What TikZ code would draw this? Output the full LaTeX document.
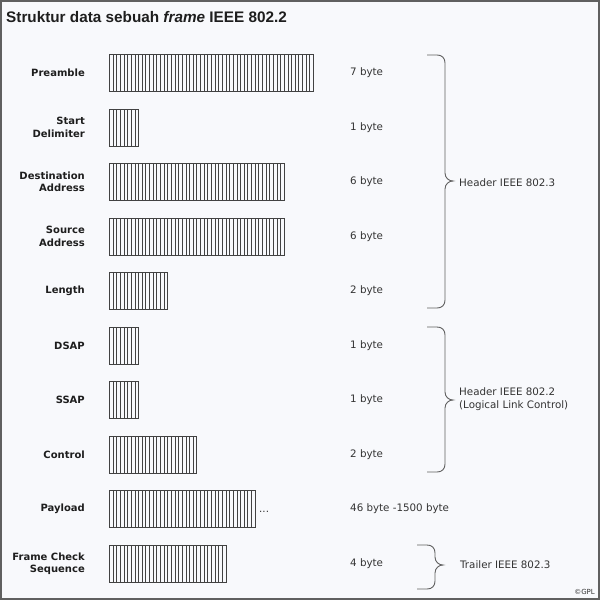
\documentclass[tikz,border=0pt]{standalone}
\usepackage{fontspec}
\setmainfont{DejaVu Sans}
\newfontfamily\titlefont{Liberation Sans}
\usetikzlibrary{positioning}

\definecolor{paper}{RGB}{248,249,252}
\definecolor{frameline}{RGB}{96,96,96}
\definecolor{ink}{RGB}{30,30,30}
\definecolor{soft}{RGB}{51,51,51}
\definecolor{stripe}{RGB}{66,66,66}

\tikzset{
  field/.style={draw=stripe, line width=0.8pt, minimum height=37pt, inner sep=0pt, anchor=west,
    path picture={
      \foreach \k in {1,...,60}
        \draw[stripe, line width=0.8pt]
          ([xshift=\k*3.643pt]path picture bounding box.south west) --
          ([xshift=\k*3.643pt]path picture bounding box.north west);
    }},
  fieldlabel/.style={text=ink, align=right, inner sep=0pt, font=\bfseries\fontsize{10}{12.5}\selectfont},
  bytecount/.style={text=soft, anchor=west, inner sep=0pt, font=\fontsize{10.3}{12.5}\selectfont},
  groupnote/.style={text=soft, anchor=west, align=left, inner sep=0pt, font=\fontsize{10.3}{13.5}\selectfont},
  bracket/.style={draw=frameline, line width=0.9pt}
}

% curly brace: left end x, top y, bottom y, tip y
\newcommand{\curly}[4]{%
  \draw[bracket] (#1,#2) -- ({#1+10},#2)
    .. controls ({#1+15},#2) and ({#1+18},{#2+3}) .. ({#1+18},{#2+8})
    -- ({#1+18},{#4-8})
    .. controls ({#1+18},{#4-3}) and ({#1+22},#4) .. ({#1+26},#4)
    .. controls ({#1+22},#4) and ({#1+18},{#4+3}) .. ({#1+18},{#4+8})
    -- ({#1+18},{#3-8})
    .. controls ({#1+18},{#3-3}) and ({#1+15},#3) .. ({#1+10},#3)
    -- (#1,#3);}

\begin{document}
\begin{tikzpicture}[x=1pt, y=-1pt]
        \useasboundingbox (0,0) rectangle (600,600);
        \fill[paper] (0,0) rectangle (600,600);
        \draw[frameline, line width=2pt] (1,1) rectangle (599,599);

        \node[anchor=base west, inner sep=0pt, text=ink, font=\titlefont\bfseries\fontsize{15.3}{18}\selectfont] (title) at (6,22.5)
          {Struktur data sebuah \textit{frame} IEEE 802.2};

        % Fields (one byte = 29.14)
        \node[field, minimum width=204pt] (pre) at (109,73) {};
        \node[field, minimum width=29.1pt] (sfd) at (109,127.5) {};
        \node[field, minimum width=175pt] (dst) at (109,182) {};
        \node[field, minimum width=175pt] (src) at (109,236.5) {};
        \node[field, minimum width=58.3pt] (len) at (109,291) {};
        \node[field, minimum width=29.1pt] (dsap) at (109,345.5) {};
        \node[field, minimum width=29.1pt] (ssap) at (109,400) {};
        \node[field, minimum width=87.4pt] (ctl) at (109,454.5) {};
        \node[field, minimum width=145.7pt] (data) at (109,509) {};
        \node[field, minimum width=116.6pt] (fcs) at (109,563.5) {};

        % Field names
        \node[fieldlabel, left=24pt of pre] (pre-l) {Preamble};
        \node[fieldlabel, left=24pt of sfd] (sfd-l) {Start\\Delimiter};
        \node[fieldlabel, left=24pt of dst] (dst-l) {Destination\\Address};
        \node[fieldlabel, left=24pt of src] (src-l) {Source\\Address};
        \node[fieldlabel, left=24pt of len] (len-l) {Length};
        \node[fieldlabel, left=24pt of dsap] (dsap-l) {DSAP};
        \node[fieldlabel, left=24pt of ssap] (ssap-l) {SSAP};
        \node[fieldlabel, left=24pt of ctl] (ctl-l) {Control};
        \node[fieldlabel, left=24pt of data] (data-l) {Payload};
        \node[fieldlabel, left=24pt of fcs] (fcs-l) {Frame Check\\Sequence};

        \node[bytecount, anchor=base west] (more) at (259,512) {...};

        % Sizes
        \node[bytecount] (pre-n) at (350,73) {7 byte};
        \node[bytecount] (sfd-n) at (350,127.5) {1 byte};
        \node[bytecount] (dst-n) at (350,182) {6 byte};
        \node[bytecount] (src-n) at (350,236.5) {6 byte};
        \node[bytecount] (len-n) at (350,291) {2 byte};
        \node[bytecount] (dsap-n) at (350,345.5) {1 byte};
        \node[bytecount] (ssap-n) at (350,400) {1 byte};
        \node[bytecount] (ctl-n) at (350,454.5) {2 byte};
        \node[bytecount] (data-n) at (350,509) {46 byte -1500 byte};
        \node[bytecount] (fcs-n) at (350,563.5) {4 byte};

        % Groups
        \curly{427}{55}{308}{181}
        \curly{427}{327}{472}{400}
        \curly{417}{545}{589}{565}

        \node[groupnote] (hdr3) at (459,183) {Header IEEE 802.3};
        \node[groupnote] (hdr2) at (459,399) {Header IEEE 802.2\\(Logical Link Control)};
        \node[groupnote] (trl) at (460,565) {Trailer IEEE 802.3};

        \node[text=soft, anchor=east, inner sep=0pt, font=\fontsize{7}{8}\selectfont] (gpl) at (595,592) {©GPL};
    \end{tikzpicture}
\end{document}
